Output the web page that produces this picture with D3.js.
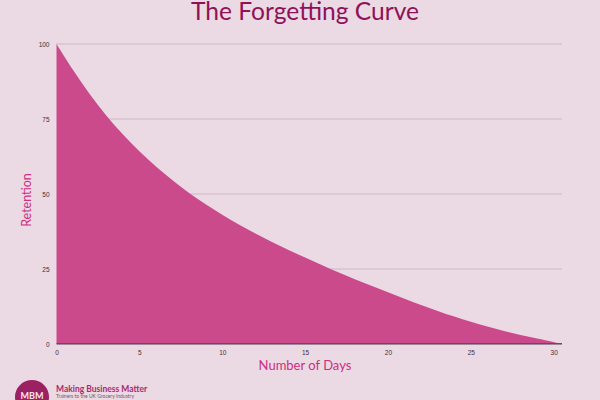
<!DOCTYPE html>
<html>
<head>
<meta charset="utf-8">
<script src="https://cdn.jsdelivr.net/npm/d3@7"></script>
<style>
	html, body { margin: 0; padding: 0; background: #ebd9e4; overflow: hidden; }
	text { font-family: Lato, sans-serif; }
</style>
</head>
<body>
<div class="chart"></div>
<script>
const days = [0, 1, 2, 3, 4, 5, 6, 7, 8, 9, 10, 11, 12, 13, 14, 15, 16, 17, 18, 19, 20, 21, 22, 23, 24, 25, 26, 27, 28, 29, 30, 30.5];
const retention = [100, 91.2, 83.2, 76, 69.8, 64.2, 59.1, 54.5, 50.3, 46.5, 43, 39.8, 36.8, 34, 31.3, 28.8, 26.3, 23.9, 21.6, 19.4, 17.3, 15.1, 13, 11, 9.1, 7.4, 5.8, 4.3, 3, 1.8, 0.7, 0];
const xTicks = [0, 5, 10, 15, 20, 25, 30];
const yTicks = [0, 25, 50, 75, 100];

let width = 600, height = 400;

let svg = d3.select(".chart")
	.append("svg")
	.attr("width", width)
	.attr("height", height)
	.style("display", "block");

let x = d3.scaleLinear().domain([0, 30.5]).range([56.5, 562]);
let y = d3.scaleLinear().domain([0, 100]).range([344, 44]);

//gridlines
svg.selectAll(".grid")
	.data(yTicks.filter(d => d > 0))
	.enter().append("line")
	.attr("class", "grid")
	.attr("x1", x(0))
	.attr("x2", x(30.5))
	.attr("y1", d => y(d))
	.attr("y2", d => y(d))
	.attr("stroke", "#cdb9c6")
	.attr("stroke-width", 1);

let area = d3.area()
	.x((d, i) => x(days[i]))
	.y0(y(0))
	.y1(d => y(d))
	.curve(d3.curveBasis);

svg.append("path")
	.datum(retention)
	.attr("d", area)
	.attr("fill", "#cb4a8b");

//baseline, dark on top with a grey edge under it
svg.append("line")
	.attr("x1", x(0))
	.attr("x2", x(30.5))
	.attr("y1", y(0) - 0.5)
	.attr("y2", y(0) - 0.5)
	.attr("stroke", "#a32c6c")
	.attr("stroke-width", 1);

svg.append("line")
	.attr("x1", x(0))
	.attr("x2", x(30.5))
	.attr("y1", y(0) + 0.5)
	.attr("y2", y(0) + 0.5)
	.attr("stroke", "#9d8a98")
	.attr("stroke-width", 1);

let xAxis = svg.append("g")
	.attr("transform", "translate(0," + y(0) + ")")
	.call(d3.axisBottom(x).tickValues(xTicks).tickSize(0).tickPadding(6));
xAxis.select(".domain").remove();

let yAxis = svg.append("g")
	.attr("transform", "translate(" + x(0) + ",0)")
	.call(d3.axisLeft(y).tickValues(yTicks).tickSize(0).tickPadding(7));
yAxis.select(".domain").remove();

svg.selectAll(".tick text")
	.style("font-family", "'Liberation Sans', sans-serif")
	.style("font-size", "6.5px")
	.attr("fill", "#3f3039");

svg.append("text")
	.attr("x", 305)
	.attr("y", 20)
	.attr("text-anchor", "middle")
	.attr("font-size", 24.6)
	.attr("fill", "#8f1258")
	.text("The Forgetting Curve");

svg.append("text")
	.attr("x", 305)
	.attr("y", 370)
	.attr("text-anchor", "middle")
	.attr("font-size", 13)
	.attr("fill", "#cb2f7f")
	.text("Number of Days");

svg.append("text")
	.attr("transform", "translate(31,200) rotate(-90)")
	.attr("text-anchor", "middle")
	.attr("font-size", 12.5)
	.attr("fill", "#cb2f7f")
	.text("Retention");

//logo
svg.append("circle")
	.attr("cx", 32)
	.attr("cy", 397)
	.attr("r", 17)
	.attr("fill", "#9c2163");

svg.append("text")
	.attr("x", 32)
	.attr("y", 399)
	.attr("text-anchor", "middle")
	.attr("font-size", 9)
	.attr("font-weight", 700)
	.attr("fill", "#f5e6ee")
	.text("MBM");

svg.append("text")
	.attr("x", 56)
	.attr("y", 392)
	.attr("font-size", 8.5)
	.attr("font-weight", 700)
	.attr("fill", "#a8296f")
	.text("Making Business Matter");

svg.append("text")
	.attr("x", 56)
	.attr("y", 398)
	.attr("font-size", 5)
	.attr("fill", "#6b5a66")
	.text("Trainers to the UK Grocery Industry");
</script>
</body>
</html>
